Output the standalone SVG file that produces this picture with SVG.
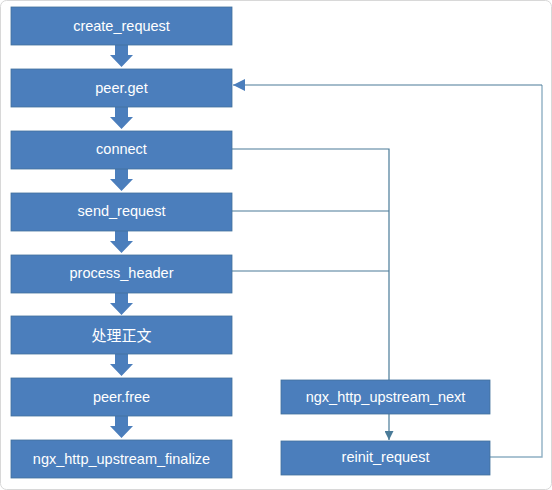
<svg xmlns="http://www.w3.org/2000/svg" width="552" height="490" viewBox="0 0 552 490">
<defs>
<style>
.box{fill:#4b7ebc;stroke:#41719c;stroke-width:0.8}
.lbl{fill:#ffffff;font-family:"Liberation Sans","Noto Sans CJK SC",sans-serif;font-size:14.5px;text-anchor:middle}
.blk{fill:#4b7ebc}
.ln{fill:none;stroke:#4a7b98;stroke-width:1.2}
.ln2{fill:none;stroke:#8fb0c4;stroke-width:1.4}
</style>
<marker id="ah" viewBox="0 0 10 10" refX="10" refY="5" markerWidth="9" markerHeight="9" markerUnits="userSpaceOnUse" orient="auto">
<path d="M0,0 L10,5 L0,10 z" fill="#4a7b98"/>
</marker>
<marker id="ah2" viewBox="0 0 10 10" refX="10" refY="5" markerWidth="12" markerHeight="12" markerUnits="userSpaceOnUse" orient="auto">
<path d="M0,0 L10,5 L0,10 z" fill="#4b7ebc"/>
</marker>
</defs>
<rect x="0.5" y="0.5" width="551" height="489" rx="6" fill="#ffffff" stroke="#d8d8d8" stroke-width="1"/>
<g id="flow-arrows">
<path class="blk" d="M115,45 h13 v10 h5 l-11.5,12 l-11.5,-12 h5 z"/>
<path class="blk" d="M115,107 h13 v10 h5 l-11.5,12 l-11.5,-12 h5 z"/>
<path class="blk" d="M115,169 h13 v10 h5 l-11.5,12 l-11.5,-12 h5 z"/>
<path class="blk" d="M115,231 h13 v10 h5 l-11.5,12 l-11.5,-12 h5 z"/>
<path class="blk" d="M115,293 h13 v10 h5 l-11.5,12 l-11.5,-12 h5 z"/>
<path class="blk" d="M115,354 h13 v10 h5 l-11.5,12 l-11.5,-12 h5 z"/>
<path class="blk" d="M115,416 h13 v10 h5 l-11.5,12 l-11.5,-12 h5 z"/>
</g>
<g id="connectors">
<path class="ln" d="M232,149 H389 V440" marker-end="url(#ah)"/>
<path class="ln" d="M232,211 H389"/>
<path class="ln" d="M232,271 H389"/>
<path class="ln2" d="M490,457 H542 V85"/>
<path class="ln" d="M542,85 H233" marker-end="url(#ah2)"/>
</g>
<g id="create_request"><rect class="box" x="11" y="7" width="221" height="38"/><text class="lbl" x="121.5" y="31">create_request</text></g>
<g id="peer_get"><rect class="box" x="11" y="69" width="221" height="38"/><text class="lbl" x="121.5" y="93">peer.get</text></g>
<g id="connect"><rect class="box" x="11" y="131" width="221" height="38"/><text class="lbl" x="121.5" y="154">connect</text></g>
<g id="send_request"><rect class="box" x="11" y="193" width="221" height="38"/><text class="lbl" x="121.5" y="216">send_request</text></g>
<g id="process_header"><rect class="box" x="11" y="255" width="221" height="38"/><text class="lbl" x="121.5" y="278">process_header</text></g>
<g id="body"><rect class="box" x="11" y="316" width="221" height="38"/><text class="lbl" x="121.5" y="341" style="font-size:15px">处理正文</text></g>
<g id="peer_free"><rect class="box" x="11" y="378" width="221" height="38"/><text class="lbl" x="121.5" y="402">peer.free</text></g>
<g id="finalize"><rect class="box" x="11" y="440" width="221" height="38"/><text class="lbl" x="121.5" y="464">ngx_http_upstream_finalize</text></g>
<g id="upstream_next"><rect class="box" x="281" y="380" width="209" height="34"/><text class="lbl" x="385.5" y="402">ngx_http_upstream_next</text></g>
<g id="reinit_request"><rect class="box" x="281" y="441" width="209" height="34"/><text class="lbl" x="385.5" y="462">reinit_request</text></g>
</svg>
